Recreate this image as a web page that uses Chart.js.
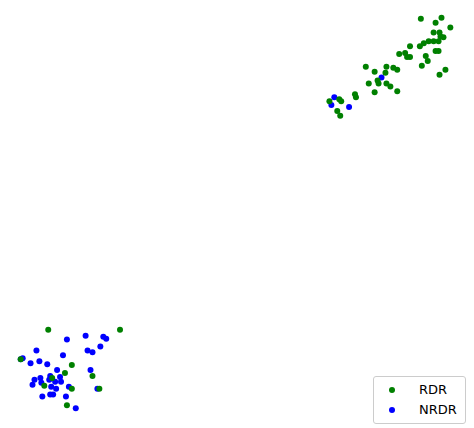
<!DOCTYPE html><html><head><script src="https://cdn.jsdelivr.net/npm/chart.js"></script>
<style>body{margin:0;background:#fff;font-family:"DejaVu Sans";}#w{position:relative;width:474px;height:428px}
#lg{position:absolute;left:373px;top:376px;width:93px;height:48px;border:1px solid #ccc;border-radius:3px;background:#fff;font-size:13px;box-sizing:border-box}
.r{position:absolute;left:15px;display:flex;align-items:center}.d{width:6px;height:6px;border-radius:50%;margin-right:24px}</style></head><body>
<div id="w"><canvas id="c" width="474" height="428"></canvas>
<div id="lg"><div class="r" style="top:5px"><div class="d" style="background:#008000"></div>RDR</div><div class="r" style="top:25px"><div class="d" style="background:#0000ff"></div>NRDR</div></div></div>
<script>
const rdrX=[424,445,439,454,437,443,447,444,442,437,432,427,423,413,439,442,429,431,425,449,443,402,408,410,413,368,389,396,400,377,388,380,381,371,389,393,377,400,357,358,341,343,331,339,342,45,118,17,69,62,90,49,41,69,97,64];
const rdrY=[15,14,19,24,29,29,34,33,38,38,38,40,43,43,48,48,53,58,63,67,72,51,50,54,54,64,64,65,67,69,70,78,81,81,81,84,90,89,92,95,97,99,99,109,114,332,332,362,368,376,379,381,389,392,392,409];
const nrdrX=[384,336,333,351,83,101,104,64,98,33,85,90,19,27,36,44,60,54,88,37,47,57,31,29,38,46,52,58,48,53,66,95,47,50,39,63,73,17];
const nrdrY=[75,95,103,105,338,339,341,342,349,353,353,355,361,366,364,367,358,373,373,381,379,380,383,388,386,383,385,385,390,392,390,392,398,398,400,400,412,362];
const pts=(xs,ys)=>xs.map((x,i)=>({x,y:ys[i]}));
new Chart(document.getElementById('c'),{type:'scatter',data:{datasets:[
{label:'RDR',data:pts(rdrX,rdrY),backgroundColor:'#008000',borderWidth:0,pointRadius:3},
{label:'NRDR',data:pts(nrdrX,nrdrY),backgroundColor:'#0000ff',borderWidth:0,pointRadius:3}]},
options:{responsive:false,animation:false,layout:{padding:0},plugins:{legend:{display:false},tooltip:{enabled:false}},
scales:{x:{display:false,min:0,max:474},y:{display:false,reverse:true,min:0,max:428}}}});
</script></body></html>
